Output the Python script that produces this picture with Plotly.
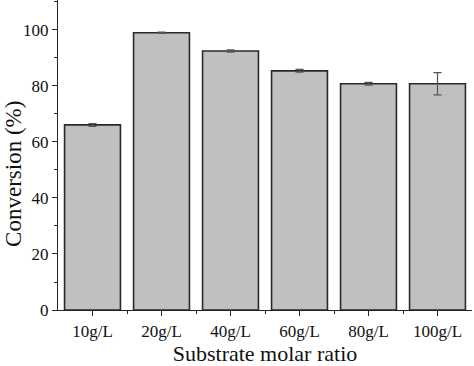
import plotly.graph_objects as go

categories = ["10g/L", "20g/L", "40g/L", "60g/L", "80g/L", "100g/L"]
conversion = [66.1, 99.0, 92.5, 85.4, 80.8, 80.8]
errors = [0.5, 0.2, 0.4, 0.5, 0.5, 4.0]
y_ticks = [0, 20, 40, 60, 80, 100]

fig = go.Figure()
fig.add_trace(go.Bar(
    x=list(range(len(categories))),
    y=conversion,
    width=0.81,
    marker=dict(color="#c0c0c0", line=dict(color="#2a2a2a", width=1.6)),
    error_y=dict(type="data", array=errors, visible=True, color="#555555", thickness=1.2, width=4),
))

font_family = "Liberation Serif"
fig.update_layout(
    width=474, height=366,
    margin=dict(l=58, r=2, t=0, b=56),
    plot_bgcolor="white", paper_bgcolor="white",
    showlegend=False,
    font=dict(family=font_family, color="#111111"),
    xaxis=dict(
        range=[-0.5, 5.5], automargin=False,
        tickmode="array", tickvals=list(range(len(categories))), ticktext=categories,
        ticks="outside", ticklen=5, tickcolor="#222", tickwidth=1,
        showline=True, linecolor="#222", linewidth=1.2,
        showgrid=False, zeroline=False,
        tickfont=dict(size=17, family=font_family),
        minor=dict(tickvals=[0.5, 1.5, 2.5, 3.5, 4.5], ticks="outside", ticklen=3, tickcolor="#222"),
        title=dict(text="Substrate molar ratio", font=dict(size=22, family=font_family), standoff=7),
    ),
    yaxis=dict(
        range=[0, 110.7], automargin=False,
        tickmode="array", tickvals=y_ticks, ticktext=[str(v) for v in y_ticks],
        ticks="outside", ticklen=5, tickcolor="#222", tickwidth=1,
        showline=True, linecolor="#222", linewidth=1.2,
        showgrid=False, zeroline=False,
        tickfont=dict(size=17, family=font_family),
        minor=dict(tickvals=[10, 30, 50, 70, 90, 110], ticks="outside", ticklen=3, tickcolor="#222"),
    ),
    annotations=[dict(
        text="Conversion (%)", textangle=-90, showarrow=False,
        xref="paper", yref="paper", x=-0.108, y=0.44,
        xanchor="center", yanchor="middle",
        font=dict(size=23, family=font_family, color="#111111"),
    )],
)

fig.write_html("out.html", config={"displayModeBar": False},
               post_script="document.body.style.margin='0';")
